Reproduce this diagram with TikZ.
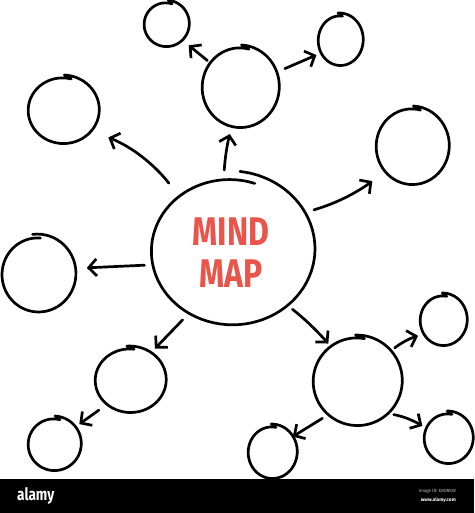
\documentclass[tikz,border=0pt]{standalone}
\usepackage{fontspec}
\setmainfont{Fira Sans}
\usetikzlibrary{arrows.meta,shapes.geometric,calc}

\definecolor{mapred}{RGB}{233,84,75}

\tikzset{
  pen/.style={line width=2.7pt, line cap=round, line join=round},
  link/.style={pen, -{Straight Barb[length=8pt,width=17pt]}},
  title/.style={font=\bfseries\fontsize{40}{42}\selectfont, text=mapred, align=center, inner sep=0pt},
}

% hand drawn bubble: name, x, y, x radius, y radius, start angle, overlap
\newcommand{\bubble}[7]{%
  \node[ellipse, inner sep=0pt, minimum width={2*#4pt}, minimum height={2*#5pt}] (#1) at (#2,#3) {};
  \draw[pen] plot[smooth, domain=#6:#6+372, samples=60]
    ({#2+(#4+#7*(1-(\x-#6)/372))*cos(\x)}, {#3+(#5+#7*(1-(\x-#6)/372))*sin(\x)});
}

\begin{document}
\begin{tikzpicture}[x=1pt,y=-1pt]
  \useasboundingbox (0,0) rectangle (474,513);
  \fill[white] (0,0) rectangle (474,513);

  % central bubble
  \bubble{hub}{231}{250}{77}{70}{276}{9}
  \node[title] (word) at (231,252.5) {\scalebox{0.8}[1]{MIND}\\\scalebox{0.8}[1]{MAP}};

  % first ring
  \bubble{tm}{240}{87}{37}{39}{272}{3}
  \bubble{rt}{412}{146}{35}{37}{272}{3}
  \bubble{lt}{63}{110}{34}{32}{272}{3}
  \bubble{lm}{38}{274}{35}{36}{262}{4}
  \bubble{br}{357}{381}{43}{43}{268}{3}
  \bubble{bl}{130}{380}{34}{31}{265}{3}

  % second ring
  \bubble{tls}{166}{24}{21}{21}{275}{3}
  \bubble{trs}{340}{40}{21}{24}{265}{3}
  \bubble{brt}{443}{320}{22}{24}{268}{3}
  \bubble{brb}{448}{438}{23}{24}{268}{3}
  \bubble{bm}{272}{452}{23}{25}{268}{3}
  \bubble{bls}{54}{444}{25}{25}{272}{3}

  % links from the centre
  \draw[link, shorten <=18pt, shorten >=20pt] (hub.134) to[bend right=15] (lt.-37);
  \draw[link, shorten <=10pt, shorten >=9pt] (hub.96) to[bend left=5] (tm.-102);
  \draw[link, shorten <=11pt, shorten >=14pt] (hub.191) -- (lm.9);
  \draw[link, shorten <=17pt, shorten >=17pt] (hub.28) to[bend right=10] (rt.-136);
  \draw[link, shorten <=13pt, shorten >=8pt] (hub.-123) -- (bl.53);
  \draw[link, shorten <=12pt, shorten >=4pt] (hub.-45) to[bend left=5] (br.127);

  % links to the outer bubbles
  \draw[link, shorten <=4pt, shorten >=10pt] (tm.141) -- (tls.-45);
  \draw[link, shorten <=11pt, shorten >=6pt] (tm.22) -- (trs.-145);
  \draw[link, shorten <=7pt, shorten >=7pt] (br.42) to[bend left=10] (brt.-143);
  \draw[link, shorten <=8pt, shorten >=5pt] (br.-48) to[bend left=10] (brb.156);
  \draw[link, shorten <=8pt, shorten >=2pt] (br.-130) -- (bm.37);
  \draw[link, shorten <=11pt, shorten >=7pt] (bl.-133) -- (bls.39);

  % stock bar
  \fill[black] (0,479) rectangle (474,513);
  \node[font=\bfseries\fontsize{17}{17}\selectfont, text=white, anchor=west, inner sep=0pt] (brand) at (17,496) {\scalebox{0.8}[1]{alamy}};
  \node[font=\fontsize{4.5}{5}\selectfont, text=white!75!black, anchor=east, inner sep=0pt] (imgid) at (456,491) {Image ID: K8DRKW};
  \node[font=\bfseries\fontsize{4.8}{5}\selectfont, text=white, anchor=east, inner sep=0pt] (site) at (456,500.5) {www.alamy.com};
\end{tikzpicture}
\end{document}
